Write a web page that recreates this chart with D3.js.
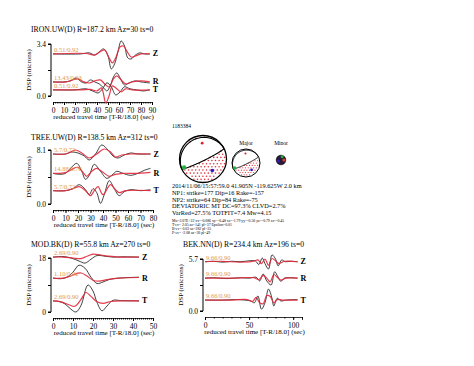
<!DOCTYPE html>
<html lang="en">
<head>
<meta charset="UTF-8">
<title>Moment tensor waveform fits</title>
<script src="https://cdn.jsdelivr.net/npm/d3@7"></script>
<style>
  html, body { margin: 0; padding: 0; background: #fff; }
  svg { display: block; font-family: 'Liberation Serif', 'DejaVu Serif', serif; }
</style>
</head>
<body>
<div id="chart"></div>
<script>
// STATION INFO
const stations = ["IRON.UW(D)", "TREE.UW(D)", "MOD.BK(D)", "BEK.NN(D)"];
const distances = [187.2, 138.5, 55.8, 234.4];
const azimuths = [30, 312, 270, 196];
const yMax = [3.4, 8.1, 18, 5.7];
const yTickLabels = [["0.0", "3.4"], ["0.0", "8.1"], ["0", "18"], ["0.0", "5.7"]];
const tMax = [90, 80, 50, 110];
const majorStep = [10, 10, 10, 50];
const minorStep = [2, 2, 1, 10];
const components = ["Z", "R", "T"];
const baselines = [[2.75, 0.92, 0.40], [7.5, 4.6, 2.0], [18.3, 11.3, 3.7], [5.4, 3.6, 1.2]];
const fitLabels = [
    ["0.51/0.92", "13.43/0.93", "0.51/0.92"],
    ["5.7/0.72", "14.88/0.76", "5.7/0.72"],
    ["2.69/0.90", "1.10/0.92", "2.69/0.90"],
    ["9.66/0.90", "9.66/0.90", "9.66/0.90"]
];

// WAVEFORMS [time (s), displacement (microns) relative to trace baseline]
const ironZobs = [[0,0],[25,0],[33,0.07],[38,-0.07],[42,0.13],[46,0.33],[50,-0.13],[53,-0.98],[56,-0.65],[59,0.13],[62,0.85],[65,0.52],[68,-0.26],[71,-0.33],[75,-0.07],[79,0.07],[83,0],[88,0]];
const ironZsyn = [[0,0],[30,0.03],[38,-0.07],[44,0.2],[47,0.26],[51,-0.26],[54,-0.59],[57,-0.26],[61,0.46],[64,0.52],[67,0.2],[71,-0.2],[75,-0.13],[80,0],[88,0]];
const ironRobs = [[0,0],[10,0],[16,0.07],[21,0.26],[26,0],[30,-0.07],[34,0.13],[38,0],[42,-0.13],[46,-0.39],[49,-0.59],[52,-0.26],[55,0.33],[58,0.59],[61,0.26],[65,-0.2],[69,-0.07],[75,0.07],[80,0],[88,-0.07]];
const ironRsyn = [[0,0],[12,0],[18,0.13],[23,0.2],[28,0],[33,-0.07],[38,0.07],[43,0.13],[47,-0.13],[51,-0.33],[55,0.2],[58,0.39],[62,0.13],[66,-0.13],[72,0],[80,0.07],[88,0]];
const ironTobs = [[0,0],[20,0],[30,0.07],[36,-0.07],[41,-0.2],[45,0.07],[49,0.46],[53,0.2],[57,-0.33],[61,-0.13],[65,0.2],[70,0.07],[76,0],[82,-0.07],[88,0]];
const ironTsyn = [[0,0],[25,0],[34,0.03],[40,-0.07],[44,0.13],[48,-0.85],[51,-0.39],[54,0.26],[58,0.07],[62,-0.13],[66,0.07],[72,0],[88,0]];

const treeZobs = [[0,0],[10,0],[15,0.3],[20,0.15],[25,-0.3],[29,-0.9],[34,0],[39,1.35],[44,0.6],[48,-0.3],[52,-0.6],[57,-0.15],[62,0.15],[68,0],[78,0]];
const treeZsyn = [[0,0],[10,0],[14,0.3],[18,0.6],[23,0.15],[29,-0.6],[35,0],[41,0.75],[46,0.3],[50,-0.45],[55,-0.15],[62,0],[78,0]];
const treeRobs = [[0,0],[5,-0.15],[10,0],[14,0.75],[19,1.5],[23,0.3],[26,-0.9],[29,-0.3],[33,1.35],[38,0.3],[43,-0.75],[47,-0.3],[51,0.3],[56,0],[62,-0.3],[68,0],[73,0.45],[78,0.75]];
const treeRsyn = [[0,0],[10,0.1],[15,0.6],[20,0.9],[24,0.15],[27,-0.45],[31,0.3],[35,0.75],[40,0.15],[45,-0.45],[50,-0.15],[56,0],[65,0],[78,0.15]];
const treeTobs = [[0,0],[10,0],[16,0.3],[21,0.9],[26,0.15],[29,-0.6],[32,0.3],[35,-0.3],[38,-1.9],[41,-0.6],[45,1.5],[49,0.3],[53,-0.75],[57,-0.15],[62,0.15],[70,0],[78,0.15]];
const treeTsyn = [[0,0],[10,0],[16,0.3],[21,0.6],[26,0],[30,-0.75],[33,0],[36,0.6],[40,-0.6],[46,0.9],[50,0.15],[53,-0.3],[58,0],[78,0]];

const modZobs = [[0,0],[5,0.2],[9,-0.3],[13,-1.3],[16,-2],[19,-0.7],[22,0.5],[26,0.3],[30,0],[35,0.1],[43,0]];
const modZsyn = [[0,0],[5,0],[10,-0.3],[14,-0.5],[17,0.3],[20,1],[24,0.7],[28,0.3],[33,0],[43,0]];
const modRobs = [[0,0],[4,-0.2],[7,0.3],[10,2],[13,4.3],[16,3.3],[19,0.3],[22,-1.8],[25,-1.3],[28,-0.5],[33,0],[43,0.3]];
const modRsyn = [[0,0],[5,0],[8,0.5],[11,1.3],[14,1.7],[17,0.7],[20,-0.7],[23,-1],[27,-0.5],[33,0],[43,0.2]];
const modTobs = [[0,0],[3,-0.2],[6,-1],[9,-2.8],[11.5,-3.7],[14,-1.5],[17.5,5.3],[20,3.3],[22,-0.5],[24.5,-3.3],[27,-1.7],[30,0.2],[34,0.1],[43,0]];
const modTsyn = [[0,0],[4,-0.3],[8,-1.3],[11,-1.8],[14,0.5],[16.5,2.8],[19,1.5],[22,-0.3],[25,-0.8],[29,-0.2],[35,0],[43,0]];

const bekZobs = [[0,0],[10,0.05],[20,-0.05],[30,0.05],[40,0],[50,0.1],[57,0.1],[61,-0.3],[65,0.4],[68,-0.2],[72,-0.8],[76,0.75],[80,0.3],[83,-0.45],[87,0.2],[91,0],[97,0.05],[105,0]];
const bekZsyn = [[0,0],[20,0.05],[40,-0.05],[55,0.05],[60,0.2],[64,-0.2],[68,0.3],[72,-0.4],[76,0.35],[80,0.1],[84,-0.2],[90,0.05],[105,0]];
const bekRobs = [[0,0],[10,0.05],[25,-0.05],[40,0.05],[50,0],[58,0.1],[62,-0.3],[66,0.45],[70,-0.3],[75,-0.75],[79,0.7],[83,0.1],[86,-0.35],[90,0],[96,0.05],[105,0]];
const bekRsyn = [[0,0],[30,0],[55,0.05],[61,-0.15],[66,0.3],[70,0],[74,-0.4],[78,0.4],[82,0.1],[86,-0.2],[92,0],[105,0]];
const bekTobs = [[0,0],[20,0],[35,0.05],[45,0],[52,-0.1],[56,-0.3],[60,0.45],[64,-1],[68,-0.3],[72,1.2],[76,0.2],[78,-0.65],[82,0.2],[86,-0.1],[92,0],[105,0.05]];
const bekTsyn = [[0,0],[30,0],[48,0.05],[54,-0.15],[58,0.3],[62,-0.3],[66,-0.4],[70,0.5],[74,0.4],[78,-0.3],[82,0.05],[88,0],[105,0]];

const observed = [[ironZobs, ironRobs, ironTobs], [treeZobs, treeRobs, treeTobs], [modZobs, modRobs, modTobs], [bekZobs, bekRobs, bekTobs]];
const synthetic = [[ironZsyn, ironRsyn, ironTsyn], [treeZsyn, treeRsyn, treeTsyn], [modZsyn, modRsyn, modTsyn], [bekZsyn, bekRsyn, bekTsyn]];

// MECHANISM
const eventId = "1183384";
const drawnPlanes = [{strike: 64, dip: 84}, {strike: 244, dip: 10}];
const axisMarks = [
    {az: 357, pl: 33, color: "#e0202a", r: 1.4},
    {az: 141, pl: 37, color: "#2a1cc8", r: 1.8},
    {az: 246, pl: 13, color: "#22b040", r: 2.2}
];
const minorMarks = [
    {az: 90, pl: 40, color: "#e0402a"},
    {az: 20, pl: 30, color: "#22b040"},
    {az: 250, pl: 45, color: "#2a1cc8"}
];
const infoLines = [
    "2014/11/06/15:57:59.0 41.905N -119.625W 2.0 km",
    "NP1: strike=177 Dip=16 Rake=-157",
    "NP2: strike=64 Dip=84 Rake=-75",
    "DEVIATORIC MT DC=97.3% CLVD=2.7%",
    "VarRed=27.5% TOTFIT=7.4 Mw=4.15"
];
const tinyLines = [
    "Mo=2.07E+22 xx=-0.086 xy=-0.48 xz=-1.79 yy=-0.50 yz=-0.79 zz=-0.45",
    "T-ev= 2.05 az=141 pl=37 Epsilon=0.01",
    "B-ev= 0.02 az=282 pl=35",
    "P-ev= -2.08 az=30 pl=49"
];

// PANEL POSITIONS
const layout = [
    {x0: 53, x1: 152, top: 44, bottom: 96, titleY: 32},
    {x0: 53, x1: 153, top: 150, bottom: 204, titleY: 140},
    {x0: 53, x1: 153, top: 258, bottom: 312, titleY: 247},
    {x0: 205, x1: 302, top: 259, bottom: 311, titleY: 247}
];
const fitColor = "#e39b45";
const synColor = "#e2283a";

const svg = d3.select("#chart").append("svg")
    .attr("width", 474).attr("height", 366);

stations.forEach((name, i) => {
    const L = layout[i];
    const g = svg.append("g");
    const x = d3.scaleLinear().domain([0, tMax[i]]).range([L.x0, L.x1]);
    const y = d3.scaleLinear().domain([0, yMax[i]]).range([L.bottom, L.top]);
    const axX = L.x0 - 2;

    g.append("text")
        .attr("x", axX - 20).attr("y", L.titleY)
        .attr("font-size", 7.7)
        .text(`${name} R=${distances[i]} km Az=${azimuths[i]} ts=0`);

    // Y AXIS
    const yAxis = d3.axisLeft(y)
        .tickValues([0, yMax[i] / 2, yMax[i]])
        .tickSize(3)
        .tickFormat((d, k) => k === 0 ? yTickLabels[i][0] : k === 2 ? yTickLabels[i][1] : "");
    g.append("g").attr("transform", `translate(${axX},0)`).call(yAxis)
        .call(a => a.select(".domain").attr("d", `M-3,${L.top}H0V${L.bottom}H-3`))
        .call(a => a.selectAll("text").attr("font-size", 7.5).attr("font-family", "Liberation Serif").attr("dx", 1));

    g.append("text")
        .attr("transform", `translate(${axX - 20},${(L.top + L.bottom) / 2}) rotate(-90)`)
        .attr("text-anchor", "middle").attr("font-size", 7)
        .text("DSP (microns)");

    // X AXIS
    const xa = g.append("g").attr("transform", `translate(0,${L.bottom + 6})`);
    xa.call(d3.axisBottom(x).tickValues(d3.range(0, tMax[i] + 0.01, minorStep[i])).tickSize(1.5).tickFormat(""))
        .call(a => a.select(".domain").remove());
    xa.append("g").call(d3.axisBottom(x).tickValues(d3.range(0, tMax[i] + 0.01, majorStep[i])).tickSize(3))
        .call(a => a.select(".domain").attr("stroke-width", 0.8))
        .call(a => a.selectAll("text").attr("font-size", 7.5).attr("font-family", "Liberation Serif").attr("dy", "0.6em"));
    g.append("text")
        .attr("x", (L.x0 + L.x1) / 2 + 1).attr("y", L.bottom + 23)
        .attr("text-anchor", "middle").attr("font-size", 7)
        .text("reduced travel time [T-R/18.0] (sec)");

    // TRACES
    components.forEach((c, j) => {
        const base = baselines[i][j];
        const line = d3.line()
            .x(d => x(d[0]))
            .y(d => y(base + d[1]))
            .curve(d3.curveCatmullRom.alpha(0.5));
        g.append("path").datum(observed[i][j])
            .attr("d", line).attr("fill", "none")
            .attr("stroke", "#111").attr("stroke-width", 0.8);
        g.append("path").datum(synthetic[i][j])
            .attr("d", line).attr("fill", "none")
            .attr("stroke", synColor).attr("stroke-width", 1.2).attr("opacity", 0.9);
        g.append("text")
            .attr("x", L.x0 + 1).attr("y", y(base) - 2)
            .attr("font-size", 6.5).attr("fill", fitColor)
            .text(fitLabels[i][j]);
        const last = observed[i][j][observed[i][j].length - 1];
        g.append("text")
            .attr("x", x(last[0]) + 3).attr("y", y(base) + 2.5)
            .attr("font-size", 8).attr("font-weight", "bold")
            .text(c);
    });
});

// BEACHBALLS (lower hemisphere, equal area)
const rad = Math.PI / 180;
function project(az, pl, R) {
    const r = R * Math.SQRT2 * Math.sin((90 - pl) * rad / 2);
    return [r * Math.sin(az * rad), -r * Math.cos(az * rad)];
}
function normal(p) {
    const s = p.strike * rad, d = p.dip * rad;
    return [-Math.sin(d) * Math.sin(s), Math.sin(d) * Math.cos(s), -Math.cos(d)];
}
function greatCircle(p, R) {
    const s = p.strike * rad, d = p.dip * rad;
    const sv = [Math.cos(s), Math.sin(s), 0];
    const dv = [Math.cos(d) * Math.cos(s + Math.PI / 2), Math.cos(d) * Math.sin(s + Math.PI / 2), Math.sin(d)];
    return d3.range(0, 181, 3).map(t => {
        const a = t * rad;
        const v = [0, 1, 2].map(k => Math.cos(a) * sv[k] + Math.sin(a) * dv[k]);
        const pl = Math.asin(Math.max(-1, Math.min(1, v[2]))) / rad;
        const az = Math.atan2(v[1], v[0]) / rad;
        return project(az, pl, R);
    });
}
function drawBall(cx, cy, R, spacing, dotR) {
    const g = svg.append("g").attr("transform", `translate(${cx},${cy})`);
    g.append("circle").attr("r", R).attr("fill", "#fff");
    const n0 = normal(drawnPlanes[0]), n1 = normal(drawnPlanes[1]);
    const pts = [];
    d3.range(-R, R + 0.1, spacing * 0.87).forEach((py, row) => {
        d3.range(-R + (row % 2) * spacing / 2, R + 0.1, spacing).forEach(px => {
            const rr = Math.hypot(px, py);
            if (rr > R - 1.2) return;
            const theta = 2 * Math.asin(rr / (R * Math.SQRT2));
            const az = Math.atan2(px, -py);
            const v = [Math.sin(theta) * Math.cos(az), Math.sin(theta) * Math.sin(az), Math.cos(theta)];
            const a = d3.sum(v, (e, k) => e * n0[k]);
            const b = -d3.sum(v, (e, k) => e * n1[k]);
            if (a * b > 0) pts.push([px, py]);
        });
    });
    g.selectAll("circle.dot").data(pts).enter().append("circle")
        .attr("class", "dot").attr("cx", d => d[0]).attr("cy", d => d[1])
        .attr("r", dotR).attr("fill", "#e0303c");
    drawnPlanes.forEach(p => {
        g.append("path").attr("d", d3.line()(greatCircle(p, R)))
            .attr("fill", "none").attr("stroke", "#000").attr("stroke-width", R > 20 ? 1.1 : 0.9);
    });
    g.append("circle").attr("r", R).attr("fill", "none").attr("stroke", "#000").attr("stroke-width", R > 20 ? 1.3 : 1);
    axisMarks.forEach(m => {
        const [mx, my] = project(m.az, m.pl, R);
        g.append("circle").attr("cx", mx).attr("cy", my)
            .attr("r", m.r * (R > 20 ? 1 : 0.75)).attr("fill", m.color);
    });
}
drawBall(203, 159, 23.5, 3.6, 0.8);
drawBall(246, 163, 14, 2.7, 0.6);

// minor ball
const mg = svg.append("g").attr("transform", "translate(281,160)");
mg.append("circle").attr("r", 4.8).attr("fill", "#2b1838").attr("stroke", "#000").attr("stroke-width", 0.6);
minorMarks.forEach(m => {
    const [mx, my] = project(m.az, m.pl, 4.8);
    mg.append("circle").attr("cx", mx).attr("cy", my).attr("r", 1.5).attr("fill", m.color);
});

svg.append("text").attr("x", 172).attr("y", 128).attr("font-size", 5.5).text(eventId);
svg.append("text").attr("x", 246).attr("y", 145).attr("font-size", 5.5).attr("text-anchor", "middle").text("Major");
svg.append("text").attr("x", 281).attr("y", 145).attr("font-size", 5.5).attr("text-anchor", "middle").text("Minor");

svg.selectAll("text.info").data(infoLines).enter().append("text")
    .attr("class", "info").attr("x", 172).attr("y", (d, i) => 188 + i * 6.8)
    .attr("font-size", 6.3).text(d => d);
svg.selectAll("text.tiny").data(tinyLines).enter().append("text")
    .attr("class", "tiny").attr("x", 172).attr("y", (d, i) => 222 + i * 4)
    .attr("font-size", 3.8).text(d => d);
</script>
</body>
</html>
